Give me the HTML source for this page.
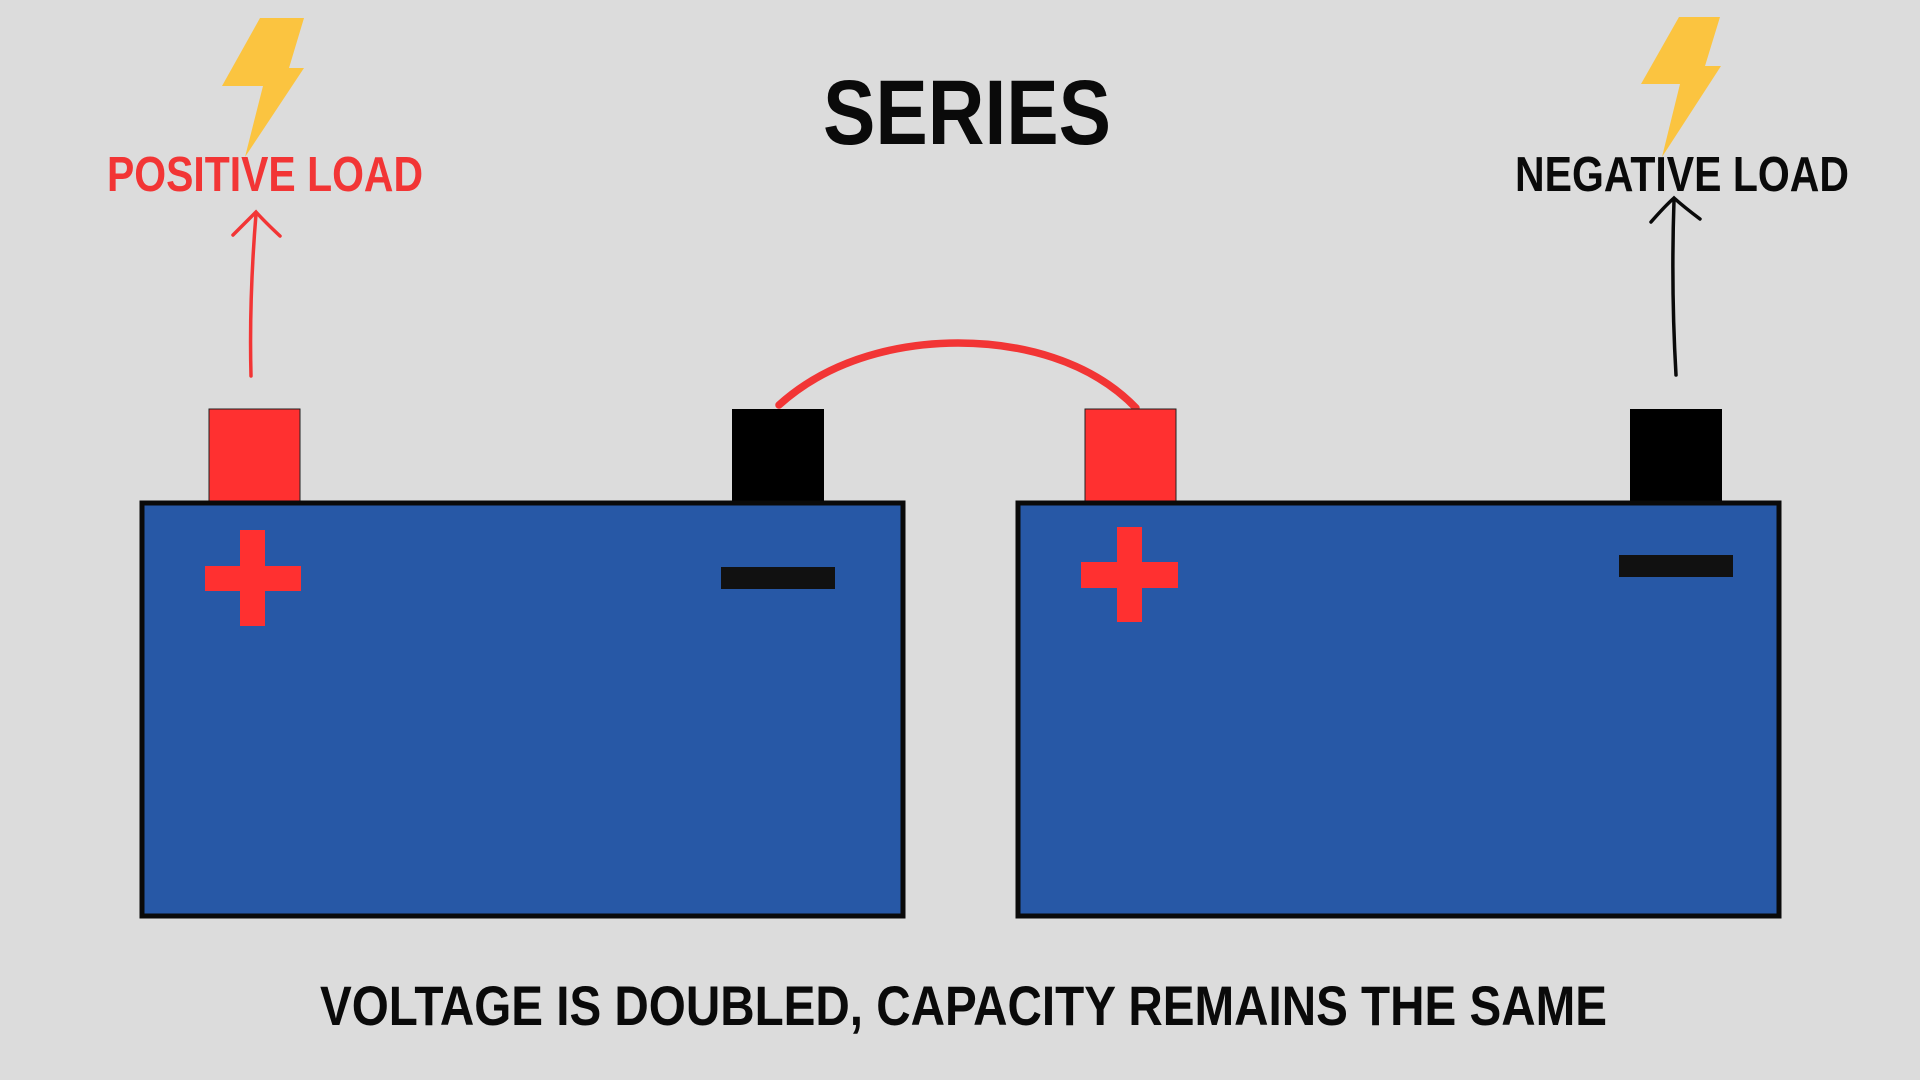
<!DOCTYPE html>
<html><head><meta charset="utf-8"><style>
html,body{margin:0;padding:0;background:#dcdcdc;width:1920px;height:1080px;overflow:hidden}
svg{display:block}
text{font-family:"Liberation Sans",sans-serif;font-weight:bold}
</style></head><body>
<svg width="1920" height="1080" viewBox="0 0 1920 1080" xmlns="http://www.w3.org/2000/svg">
<rect width="1920" height="1080" fill="#dcdcdc"/>
<polygon points="260,18 304,18 289,68 304,68 245,157 263,86 222,86" fill="#fbc440"/>
<polygon points="1679,17 1720,17 1705,66 1721,66 1662,157 1680,84 1641,84" fill="#fbc440"/>
<text x="967" y="144" font-size="92" text-anchor="middle" textLength="288" lengthAdjust="spacingAndGlyphs" fill="#0a0a0a">SERIES</text>
<text x="107" y="191" font-size="49" textLength="316" lengthAdjust="spacingAndGlyphs" fill="#f23535">POSITIVE LOAD</text>
<text x="1515" y="191" font-size="49" textLength="334" lengthAdjust="spacingAndGlyphs" fill="#0a0a0a">NEGATIVE LOAD</text>
<text x="320" y="1025" font-size="56" textLength="1287" lengthAdjust="spacingAndGlyphs" fill="#0a0a0a">VOLTAGE IS DOUBLED, CAPACITY REMAINS THE SAME</text>
<path d="M251,376 Q249,300 256,214" stroke="#f23535" stroke-width="3.5" fill="none" stroke-linecap="round"/>
<path d="M233,235 Q250,218 256,212 Q265,222 280,236" stroke="#f23535" stroke-width="3.5" fill="none" stroke-linecap="round"/>
<path d="M1676,375 Q1671,290 1674,200" stroke="#0a0a0a" stroke-width="3.5" fill="none" stroke-linecap="round"/>
<path d="M1651,222 Q1665,206 1674,198 Q1684,207 1700,219" stroke="#0a0a0a" stroke-width="3.5" fill="none" stroke-linecap="round"/>
<path d="M779,405 C840,350 920,343 958,343 C1020,343 1090,360 1136,408" stroke="#f23535" stroke-width="7.5" fill="none" stroke-linecap="round"/>
<rect x="209" y="409" width="91" height="93" fill="#ff3030" stroke="#222" stroke-width="1"/>
<rect x="732" y="409" width="92" height="93" fill="#000"/>
<rect x="1085" y="409" width="91" height="93" fill="#ff3030" stroke="#222" stroke-width="1"/>
<rect x="1630" y="409" width="92" height="93" fill="#000"/>
<rect x="142" y="503" width="761" height="413" fill="#2758a6" stroke="#0a0a0a" stroke-width="5"/>
<rect x="1018" y="503" width="761" height="413" fill="#2758a6" stroke="#0a0a0a" stroke-width="5"/>
<rect x="205" y="566" width="96" height="25" fill="#ff3030"/>
<rect x="240" y="530" width="25" height="96" fill="#ff3030"/>
<rect x="1081" y="562" width="97" height="26" fill="#ff3030"/>
<rect x="1117" y="527" width="25" height="95" fill="#ff3030"/>
<rect x="721" y="567" width="114" height="22" fill="#111"/>
<rect x="1619" y="555" width="114" height="22" fill="#111"/>
</svg>
</body></html>
